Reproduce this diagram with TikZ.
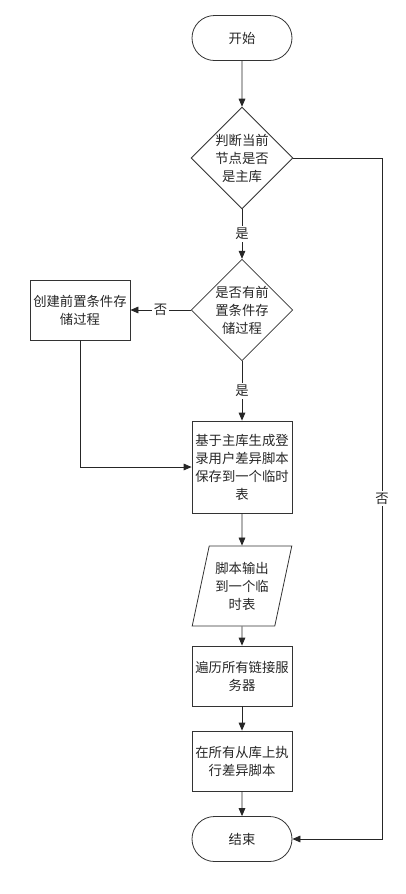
\documentclass[tikz,border=0pt]{standalone}
\usepackage{fontspec}
\setmainfont{Noto Sans CJK SC}
\usetikzlibrary{positioning,calc,shapes.geometric,shapes.misc,arrows.meta}
\newcommand{\fnode}[4]{\node [#1] (#2) at (#3) {#4}}
\tikzset{
  base/.style={draw=black!80, line width=0.6pt, align=center, inner sep=0pt,
    font=\fontsize{10pt}{13.5pt}\selectfont, text=black!85},
  term/.style={base, rounded rectangle, minimum width=75pt, minimum height=33.75pt},
  proc/.style={base, rectangle, minimum width=75pt, minimum height=45pt},
  dec/.style={base, diamond, aspect=1, minimum width=75pt, minimum height=75pt},
  io/.style={base, trapezium, trapezium left angle=74, trapezium right angle=106,
    trapezium stretches=true, minimum width=75pt, minimum height=60pt},
  arr/.style={draw=black!85, line width=0.6pt, -{Triangle[length=6pt,width=5pt]}},
  lbl/.style={fill=white, inner sep=1.5pt, font=\fontsize{10pt}{13pt}\selectfont, text=black!85}
}

\begin{document}
\begin{tikzpicture}[x=0.75pt, y=-0.75pt]
\useasboundingbox (0,0) rectangle (406,894);

\fnode{term}{START}{242,38}{开始};
\fnode{dec}{ISMAIN}{242,158}{判断当前\\节点是否\\是主库};
\fnode{dec}{HASPRE}{242,310}{是否有前\\置条件存\\储过程};
\fnode{proc}{MKPRE}{80,310}{创建前置条件存\\储过程};
\fnode{proc, minimum height=69pt}{GEN}{242,467}{基于主库生成登\\录用户差异脚本\\保存到一个临时\\表};
\fnode{io}{OUT}{242,586}{脚本输出\\到一个临\\时表};
\fnode{proc}{LOOP}{242,676}{遍历所有链接服\\务器};
\fnode{proc}{EXEC}{242,761}{在所有从库上执\\行差异脚本};
\fnode{term}{END}{242,839}{结束};
\coordinate (RTOP) at (382,158);
\coordinate (RBOT) at (382,839);

\draw[arr] (START) -- (ISMAIN);
\draw[arr] (ISMAIN) -- (HASPRE) node [midway, lbl] {是};
\draw[arr] (HASPRE) -- (MKPRE) node [midway, lbl] {否};
\draw[arr] (HASPRE) -- (GEN) node [midway, lbl] {是};
\draw[arr] (MKPRE) |- (GEN);
\draw[arr] (GEN) -- (OUT);
\draw[arr] (OUT) -- (LOOP);
\draw[arr] (LOOP) -- (EXEC);
\draw[arr] (EXEC) -- (END);
\draw[arr] (ISMAIN.east) -- (RTOP) -- (RBOT) -- (END.east);
\node [lbl] (NOLBL) at ($(RTOP)!0.5!(RBOT)$) {否};

\end{tikzpicture}
\end{document}
